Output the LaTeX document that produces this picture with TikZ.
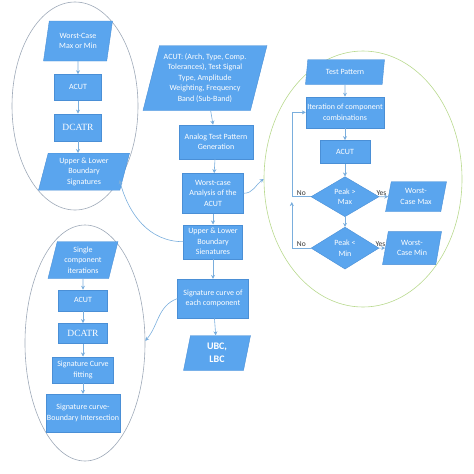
\documentclass[tikz,border=0pt]{standalone}
\usepackage{fontspec}
\setmainfont{Carlito}
\newfontfamily\dcfont{Liberation Serif}
\usepackage{tikz}
\usetikzlibrary{arrows.meta,positioning,shapes.geometric}
\definecolor{boxblue}{HTML}{5AA5EE}
\definecolor{boxedge}{HTML}{4A8FD6}
\definecolor{arrowblue}{HTML}{7AAEDD}
\definecolor{ringgray}{HTML}{9EA9B8}
\definecolor{ringgreen}{HTML}{B8D98E}
\definecolor{lbltext}{HTML}{333333}

\begin{document}
\begin{tikzpicture}[
    x=1pt, y=-1pt,
    >={Stealth[length=4pt,width=4pt]},
    proc/.style={rectangle, fill=boxblue, draw=boxedge, text=white, align=center, inner sep=1pt, font=\fontsize{8}{10.5}\selectfont},
    io/.style={trapezium, trapezium left angle=72, trapezium right angle=108, trapezium stretches body, fill=boxblue, draw=boxedge, text=white, align=center, inner sep=1pt, font=\fontsize{8}{10.5}\selectfont},
    dec/.style={diamond, aspect=1.7, fill=boxblue, draw=boxedge, text=white, align=center, inner sep=0pt, font=\fontsize{8}{10.5}\selectfont},
    ring/.style={ellipse, draw=#1, semithick, inner sep=0pt},
    arr/.style={->, arrowblue, semithick},
    lbl/.style={font=\fontsize{7.5}{9}\selectfont, text=lbltext, inner sep=1pt},
]
\useasboundingbox (0,0) rectangle (474,474);

% Rings
\node[ring=ringgray, minimum width=126pt, minimum height=208pt] (ringtop) at (75,106) {};
\node[ring=ringgray, minimum width=120pt, minimum height=236pt] (ringbot) at (85,343) {};
\node[ring=ringgreen, minimum width=198pt, minimum height=256pt] (ringright) at (363,179) {};

% Main column
\node[io, minimum width=124pt, minimum height=65pt] (spec) at (205,78) {ACUT: (Arch, Type, Comp.\\Tolerances), Test Signal\\Type, Amplitude\\Weighting, Frequency\\Band (Sub-Band)};
\node[proc, minimum width=74pt, minimum height=34pt, below=14pt of spec, xshift=11pt] (atpg) {Analog Test Pattern\\Generation};
\node[proc, minimum width=61pt, minimum height=40pt, below=14pt of atpg, xshift=-3pt] (wca) {Worst-case\\Analysis of the\\ACUT};
\node[proc, minimum width=59pt, minimum height=34pt, below=11pt of wca] (bnd) {Upper \& Lower\\Boundary\\Sienatures};
\node[proc, minimum width=71pt, minimum height=39pt, below=20pt of bnd] (sigc) {Signature curve of\\each component};
\node[io, minimum width=67pt, minimum height=35pt, below=17pt of sigc, xshift=4pt, font=\fontsize{10}{13}\selectfont\bfseries] (ubc) {UBC,\\LBC};

% Worst-case ring (top left)
\node[io, minimum width=69pt, minimum height=40pt] (wcmm) at (78,41) {Worst-Case\\Max or Min};
\node[proc, minimum width=47pt, minimum height=26pt, below=13pt of wcmm] (acuta) {ACUT};
\node[proc, minimum width=47pt, minimum height=27pt, below=13pt of acuta, font=\dcfont\fontsize{9.5}{11}\selectfont] (dcatra) {DCATR};
\node[io, minimum width=91pt, minimum height=37pt, below=12pt of dcatra, xshift=6pt] (bnda) {Upper \& Lower\\Boundary\\Signatures};

% Single component ring (bottom left)
\node[io, minimum width=70pt, minimum height=37pt] (sci) at (83,260) {Single\\component\\iterations};
\node[proc, minimum width=49pt, minimum height=21pt, below=11pt of sci] (acutb) {ACUT};
\node[proc, minimum width=49pt, minimum height=20pt, below=12pt of acutb, font=\dcfont\fontsize{9.5}{11}\selectfont] (dcatrb) {DCATR};
\node[proc, minimum width=61pt, minimum height=26pt, below=13pt of dcatrb] (scf) {Signature Curve\\fitting};
\node[proc, minimum width=73pt, minimum height=38pt, below=11pt of scf] (sbi) {Signature curve-\\Boundary Intersection};

% Peak search ring (right)
\node[io, minimum width=79pt, minimum height=25pt] (tpat) at (345,72) {Test Pattern};
\node[proc, minimum width=78pt, minimum height=31pt, below=12pt of tpat] (iter) {Iteration of component\\combinations};
\node[proc, minimum width=50pt, minimum height=23pt, below=12pt of iter] (acutc) {ACUT};
\node[dec, minimum width=68pt, minimum height=40pt, below=13pt of acutc] (pmax) {Peak >\\Max};
\node[dec, minimum width=68pt, minimum height=42pt, below=10pt of pmax] (pmin) {Peak <\\Min};
\node[io, minimum width=61pt, minimum height=30pt, right=9pt of pmax] (wcmax) {Worst-\\Case Max};
\node[io, minimum width=59pt, minimum height=33pt, right=6pt of pmin] (wcmin) {Worst-\\Case Min};

% Arrows
\draw[arr] (spec) -- (atpg);
\draw[arr] (atpg) -- (wca);
\draw[arr] (wca) -- (bnd);
\draw[arr] (bnd) -- (sigc);
\draw[arr] (sigc) -- (ubc);

\draw[arr] (wcmm) -- (acuta);
\draw[arr] (acuta) -- (dcatra);
\draw[arr] (dcatra) -- (bnda.north -| dcatra);

\draw[arr] (sci) -- (acutb);
\draw[arr] (acutb) -- (dcatrb);
\draw[arr] (dcatrb) -- (scf);
\draw[arr] (scf) -- (sbi);

\draw[arr] (tpat) -- (iter);
\draw[arr] (iter) -- (acutc);
\draw[arr] (acutc) -- (pmax);
\draw[arr] (pmax) -- (pmin);
\draw[arr] (pmax.east) -- node[lbl, above, pos=0.25] {Yes} (wcmax);
\draw[arr] (pmin.east) -- node[lbl, above, pos=0.2] {Yes} (wcmin);
\draw[arr] (pmax.west) -- node[lbl, above] {No} ++(-19,0) |- (iter.west);
\draw[arr] (pmin.west) -- node[lbl, above] {No} ++(-19,0) -- ++(0,-46);

% Links to the rings
\draw[arr] (wca.east) to[out=0, in=215] (ringright.west);
\draw[arr] (bnd.west) to[out=180, in=-75] (ringtop.-59);
\draw[arr] (sigc.west) to[out=200, in=50] (ringbot.2);

\end{tikzpicture}
\end{document}
